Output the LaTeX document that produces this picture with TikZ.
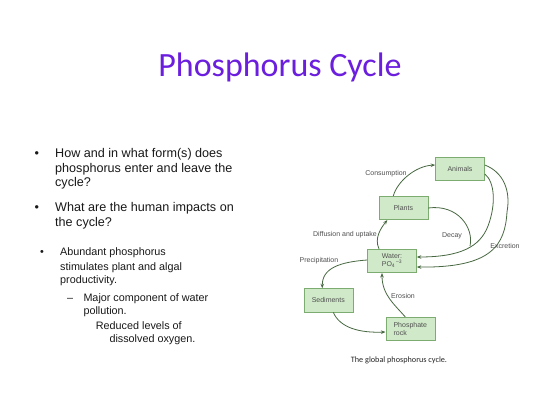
\documentclass[tikz,border=0pt]{standalone}
\usepackage{fontspec}
\setmainfont{Liberation Sans}
\newfontfamily\titlefont{Carlito}
\usetikzlibrary{arrows.meta}
\definecolor{titlecol}{RGB}{108,30,222}
\definecolor{boxfill}{RGB}{208,233,200}
\definecolor{boxline}{RGB}{125,172,112}
\definecolor{flowcol}{RGB}{72,104,66}
\definecolor{labcol}{RGB}{80,80,80}
\definecolor{bodycol}{RGB}{25,25,25}
\tikzset{
  stagebox/.style={draw=boxline, fill=boxfill, line width=0.6pt, minimum width=49pt, minimum height=23.5pt, inner sep=0pt, font=\fontsize{7}{8}\selectfont, text=labcol},
  flowline/.style={draw=flowcol, line width=0.8pt},
  flow/.style={flowline, -{Stealth[length=4.5pt,width=3.5pt]}},
  flowlab/.style={font=\fontsize{7}{8}\selectfont, text=labcol, inner sep=0pt},
  bigtxt/.style={font=\fontsize{12.6}{14}\selectfont, text=bodycol, anchor=base west, inner sep=0pt},
  smalltxt/.style={font=\fontsize{10.8}{13}\selectfont, text=bodycol, anchor=base west, inner sep=0pt}
}
\begin{document}
\begin{tikzpicture}[x=1pt,y=-1pt]
\useasboundingbox (0,0) rectangle (560,420);
\fill[white] (0,0) rectangle (560,420);

% title
\node[font=\titlefont\fontsize{34}{40}\selectfont, text=titlecol, anchor=base, inner sep=0pt] (title) at (280,77) {Phosphorus Cycle};

% left text
\node[bigtxt] (b1) at (34.5,157.7) {•};
\node[bigtxt] (l1) at (55,157.7) {How and in what form(s) does};
\node[bigtxt] (l2) at (55,172.3) {phosphorus enter and leave the};
\node[bigtxt] (l3) at (55,186.5) {cycle?};
\node[bigtxt] (b2) at (34.5,211.7) {•};
\node[bigtxt] (l4) at (55,211.7) {What are the human impacts on};
\node[bigtxt] (l5) at (55,226) {the cycle?};

\node[smalltxt] (b3) at (39.8,255.7) {•};
\node[smalltxt] (m1) at (60,255.7) {Abundant phosphorus};
\node[smalltxt] (m2) at (60,270) {stimulates plant and algal};
\node[smalltxt] (m3) at (60,283) {productivity.};
\node[smalltxt] (d1) at (67,301) {–};
\node[smalltxt] (m4) at (83.3,301) {Major component of water};
\node[smalltxt] (m5) at (83.3,314) {pollution.};
\node[smalltxt] (m6) at (95.7,329.3) {Reduced levels of};
\node[smalltxt] (m7) at (109.3,342.3) {dissolved oxygen.};

% diagram boxes
\node[stagebox] (animals) at (460,169) {Animals};
\node[stagebox] (plants) at (403.3,208) {Plants};
\node[stagebox, align=center] (water) at (392,261) {Water:\\PO\textsubscript{4}\textsuperscript{\,--3}};
\node[stagebox] (sed) at (328.3,300.3) {Sediments};
\node[stagebox, align=left] (rock) at (410.3,329) {Phosphate\\rock};

\coordinate (merge) at (470,246);

% flows
\draw[flow] ([xshift=-10pt]plants.north) .. controls (397,182) and (415,166) .. ([yshift=4pt]animals.west);
\draw[flow] ([xshift=-13pt]water.north) .. controls (374,238) and (381,228) .. ([xshift=-16pt]plants.south);
\draw[flowline] (plants.east) .. controls (458,204) and (474,228) .. (merge);
\draw[flow] ([yshift=-5pt]animals.east) .. controls (495,182) and (496,205) .. (488,226) .. controls (480,247) and (460,257) .. ([yshift=4pt]water.east);
\draw[flow] ([yshift=4pt]animals.east) .. controls (503,172) and (511,190) .. (507,212) .. controls (505,245) and (492,268) .. ([yshift=-6pt]water.east);
\draw[flow] ([yshift=1pt]water.west) .. controls (340,262) and (322,268) .. ([xshift=-6pt]sed.north);
\draw[flow] ([xshift=5pt]sed.south) .. controls (340,328) and (360,333) .. ([yshift=-3pt]rock.west);
\draw[flow] ([xshift=-5pt]rock.north) .. controls (395,305) and (382,295) .. ([xshift=-10pt]water.south);

% flow labels
\node[flowlab] (lcons) at (386,174) {Consumption};
\node[flowlab] (ldiff) at (345,235) {Diffusion and uptake};
\node[flowlab] (ldecay) at (452,236) {Decay};
\node[flowlab] (lexcr) at (505,246) {Excretion};
\node[flowlab] (lprec) at (319,261) {Precipitation};
\node[flowlab] (leros) at (403,296) {Erosion};

% caption
\node[font=\titlefont\fontsize{8.2}{9}\selectfont, text=black!85, inner sep=0pt] (caption) at (399,360) {The global phosphorus cycle.};
\end{tikzpicture}
\end{document}
